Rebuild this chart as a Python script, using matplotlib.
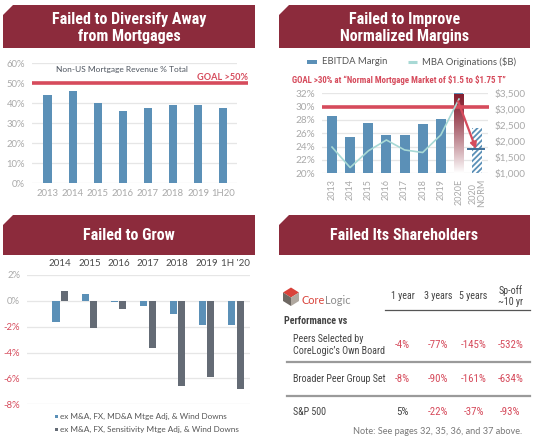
import numpy as np
import matplotlib
matplotlib.use('Agg')
import matplotlib.pyplot as plt
from matplotlib import font_manager
from matplotlib.patches import Polygon, Rectangle

# ---------------- data ----------------
p1_years = ['2013', '2014', '2015', '2016', '2017', '2018', '2019', '1H20']
p1_values = [44, 46, 40, 36.2, 37.7, 39, 39, 37.7]
p1_goal = 50
p1_ticks = [0, 10, 20, 30, 40, 50, 60]

p2_labels = ['2013', '2014', '2015', '2016', '2017', '2018', '2019', '2020E', '2020\nNORM']
p2_margin = [28.6, 25.5, 27.6, 25.7, 25.8, 27.4, 28.2]
p2_margin_2020e = 31.8
p2_margin_2020e_cap = 32.0
p2_margin_norm = 26.8
p2_norm_marker = 1750
p2_orig = [1820, 1180, 1700, 2040, 1730, 1650, 2200, 3320]
p2_goal = 29.9
p2_left_ticks = [20, 22, 24, 26, 28, 30, 32]
p2_right_ticks = [1000, 1500, 2000, 2500, 3000, 3500]

p3_years = ['2014', '2015', '2016', '2017', '2018', '2019', "1H '20"]
p3_blue = [-1.6, 0.5, -0.1, -0.4, -1.0, -1.85, -1.85]
p3_gray = [0.75, -2.1, -0.65, -3.65, -6.6, -5.9, -6.8]
p3_ticks = [2, 0, -2, -4, -6, -8]

p4_cols = ['1 year', '3 years', '5 years', 'Sp-off\n~10 yr']
p4_rows = ['Peers Selected by\nCoreLogic\u2019s Own Board', 'Broader Peer Group Set', 'S&P 500']
p4_vals = [[-4, -77, -145, -532], [-8, -90, -161, -634], [5, -22, -37, -93]]

# ---------------- style ----------------
def pick(cands):
    for c in cands:
        try:
            font_manager.findfont(font_manager.FontProperties(family=c), fallback_to_default=False)
            return c
        except Exception:
            pass
    return 'DejaVu Sans'

NARROW = pick(['Roboto Condensed', 'Liberation Sans Narrow', 'DejaVu Sans Condensed', 'Roboto'])
BODY = pick(['Lato', 'Open Sans', 'DejaVu Sans'])
plt.rcParams['font.family'] = [BODY, 'DejaVu Sans']
plt.rcParams['hatch.linewidth'] = 1.3

BANNER = '#8C2B3C'
BLUE = '#5B90B7'
GRAYBAR = '#646B75'
RED = '#D64B5C'
TICK = '#A9A9A9'
GRID = '#E6E6E6'
TEAL = '#A8D9D5'
DARK = '#4F5660'

W, H = 544, 443
fig = plt.figure(figsize=(W / 100, H / 100), dpi=100)


def px_rect(x0, y0, x1, y1):
    return [x0 / W, 1 - y1 / H, (x1 - x0) / W, (y1 - y0) / H]


def clean(ax):
    for s in ax.spines.values():
        s.set_visible(False)
    ax.tick_params(length=0)


# ---------------- panel 1 ----------------
ax1 = fig.add_axes(px_rect(32, 63.3, 237, 183.3))
x1 = np.arange(len(p1_years))
ax1.bar(x1, p1_values, width=0.33, color=BLUE, zorder=2)
ax1.set_ylim(0, 60)
ax1.set_xlim(-0.62, 7.55)
ax1.set_yticks(p1_ticks)
ax1.set_yticklabels([f'{t}%' for t in p1_ticks], color=TICK, fontsize=6.8)
ax1.set_xticks(x1)
ax1.set_xticklabels(p1_years, color=TICK, fontsize=6.8)
ax1.yaxis.grid(True, color=GRID, lw=0.9, zorder=0)
ax1.set_axisbelow(True)
clean(ax1)
ax1.tick_params(axis='y', pad=5)
ax1.tick_params(axis='x', pad=4)
ax1.plot([-0.62, 7.99], [p1_goal, p1_goal], color=RED, lw=2.6, clip_on=False,
         solid_capstyle='butt', zorder=3)

# ---------------- panel 2 ----------------
ax2 = fig.add_axes(px_rect(322, 93.3, 488, 173.3))
x2 = np.arange(len(p2_labels))
ax2.set_ylim(20, 32)
ax2.set_xlim(-0.55, 8.6)
bw = 0.55
ax2.bar(x2[:7], np.array(p2_margin) - 20, bottom=20, width=bw, color=BLUE, zorder=2)
ax2.bar(x2[7], p2_margin_2020e_cap - 20, bottom=20, width=bw * 0.9, color=BLUE, zorder=2)
# gradient bar
t = np.linspace(0, 1, 256)[:, None]
c_top = np.array([0x86, 0x1F, 0x30]) / 255
ramp = np.clip(t ** 1.3, 0, 1)
grad = (1 - ramp) * c_top + ramp * np.array([1, 1, 1])
grad = grad.reshape(256, 1, 3)
ax2.imshow(grad, extent=(x2[7] - bw / 2, x2[7] + bw / 2, 20, p2_margin_2020e),
           aspect='auto', zorder=3, interpolation='bilinear')
ax2.set_xlim(-0.55, 8.6)
ax2.set_ylim(20, 32)
ax2.bar(x2[8], p2_margin_norm - 20, bottom=20, width=bw, color='white',
        edgecolor=BLUE, hatch='//////', lw=0, zorder=2)
ax2.set_yticks(p2_left_ticks)
ax2.set_yticklabels([f'{t}%' for t in p2_left_ticks], color=TICK, fontsize=7.2)
ax2.set_xticks(x2)
ax2.set_xticklabels(p2_labels, color=TICK, fontsize=6.5, rotation=90, linespacing=0.9)
ax2.yaxis.grid(True, color=GRID, lw=0.9, zorder=0)
ax2.set_axisbelow(True)
clean(ax2)
ax2.tick_params(axis='y', pad=5)
ax2.tick_params(axis='x', pad=4)
ax2.plot([-0.55, 8.65], [p2_goal, p2_goal], color=RED, lw=2.6, clip_on=False,
         solid_capstyle='butt', zorder=4)

ax2r = ax2.twinx()
ax2r.set_ylim(1000, 3500)
ax2r.set_xlim(-0.55, 8.6)
ax2r.plot(x2[:8], p2_orig, color=TEAL, lw=1.2, zorder=3)
ax2r.plot([x2[8] - 0.5, x2[8] + 0.39], [p2_norm_marker, p2_norm_marker], color='#3F6F98', lw=1.4, zorder=4)
ax2r.annotate('', xy=(x2[8] - 0.06, p2_norm_marker + 10), xytext=(x2[7] - 0.05, 3250),
              arrowprops=dict(arrowstyle='-|>', color=RED, lw=1.6, mutation_scale=9,
                              shrinkA=0, shrinkB=0), zorder=5)
ax2r.set_yticks(p2_right_ticks)
ax2r.set_yticklabels([f'${v:,}' for v in p2_right_ticks], color=TICK, fontsize=7.2)
clean(ax2r)
ax2r.tick_params(axis='y', pad=5)

# ---------------- panel 3 ----------------
ax3 = fig.add_axes(px_rect(27, 275, 250, 404.3))
x3 = np.arange(len(p3_years))
ax3.bar(x3 - 0.14, p3_blue, width=0.24, color=BLUE, zorder=2)
ax3.bar(x3 + 0.14, p3_gray, width=0.24, color=GRAYBAR, zorder=2)
ax3.set_ylim(-8, 2)
ax3.set_xlim(-1.13, 6.48)
ax3.set_yticks(p3_ticks)
ax3.set_yticklabels([f'{t}%' for t in p3_ticks], fontsize=6.8)
for lab, tv in zip(ax3.get_yticklabels(), p3_ticks):
    lab.set_color(TICK if tv >= 0 else RED)
ax3.xaxis.tick_top()
ax3.set_xticks(x3)
ax3.set_xticklabels(p3_years, color='#4A4A4A', fontsize=7)
ax3.yaxis.grid(True, color=GRID, lw=0.9, zorder=0)
ax3.set_axisbelow(True)
clean(ax3)
ax3.tick_params(axis='y', pad=5)
ax3.tick_params(axis='x', pad=5)

# ---------------- overlay (banners, texts, table) ----------------
ov = fig.add_axes([0, 0, 1, 1])
ov.set_xlim(0, W)
ov.set_ylim(H, 0)
ov.axis('off')


def banner(x0, y0, x1, y1, lines):
    ov.add_patch(Polygon([(x0, y0 + 10), (x0 + 10, y0), (x1, y0), (x1, y1), (x0, y1)],
                         closed=True, color=BANNER, lw=0))
    cx = (x0 + x1) / 2
    if len(lines) == 1:
        ys = [(y0 + y1) / 2 + 0.5]
    else:
        ys = [(y0 + y1) / 2 - 7.5, (y0 + y1) / 2 + 9.5]
    for s, y in zip(lines, ys):
        ov.text(cx, y, s, color='white', fontsize=11.5, fontweight='bold', family=[NARROW, 'DejaVu Sans'],
                ha='center', va='center')


banner(3, 5, 255, 48, ['Failed to Diversify Away', 'from Mortgages'])
banner(279, 5, 530, 48, ['Failed to Improve', 'Normalized Margins'])
banner(3, 215, 255, 255, ['Failed to Grow'])
banner(279, 215, 530, 255, ['Failed Its Shareholders'])

# panel 1 annotations
ov.text(122, 69, 'Non-US Mortgage Revenue % Total', fontsize=6, color=DARK, ha='center', va='center')
ov.text(248, 77.5, 'GOAL >50%', fontsize=6.6, color=RED, fontweight='bold', ha='right', va='center')

# panel 2 legend and goal text
ov.add_patch(Rectangle((307, 60), 10, 3.5, color=BLUE, lw=0))
ov.text(321.5, 61.8, 'EBITDA Margin', fontsize=6.8, color='#555555', va='center', ha='left')
ov.plot([408, 417], [61.8, 61.8], color=TEAL, lw=2.2, solid_capstyle='butt')
ov.text(421.5, 61.8, 'MBA Originations (\\$B)', fontsize=6.8, color='#555555', va='center', ha='left')
ov.text(291.5, 80, 'GOAL >30% at \u201cNormal Mortgage Market of \\$1.5 to \\$1.75 T\u201d', fontsize=6.4,
        color=RED, fontweight='bold', family=[NARROW, 'DejaVu Sans'], va='center', ha='left')

# panel 3 legend
ov.add_patch(Rectangle((54.5, 414.5), 3.6, 3.6, color=BLUE, lw=0))
ov.text(59.5, 416.5, 'ex M&A, FX, MD&A Mtge Adj, & Wind Downs', fontsize=5.9, color='#555555',
        va='center', ha='left')
ov.add_patch(Rectangle((54.5, 427.5), 3.6, 3.6, color=GRAYBAR, lw=0))
ov.text(59.5, 429.5, 'ex M&A, FX, Sensitivity Mtge Adj, & Wind Downs', fontsize=5.9, color='#555555',
        va='center', ha='left')

# panel 4: logo
ov.add_patch(Polygon([(283, 292.5), (291, 287.5), (299, 292.5), (291, 297.5)], closed=True,
                     color='#D9423A', lw=0))
ov.add_patch(Polygon([(283, 292.5), (291, 297.5), (291, 306), (283, 301)], closed=True,
                     color='#6E6862', lw=0))
ov.add_patch(Polygon([(291, 297.5), (299, 292.5), (299, 301), (291, 306)], closed=True,
                     color='#B0A89F', lw=0))
t_core = ov.text(302, 300.7, 'Core', fontsize=7.8, color='#D9423A', va='center', ha='left')
ov.annotate('Logic', xy=(1, 0), xycoords=t_core, va='bottom', ha='left', fontsize=7.8, color='#8C8C8C')

TF = [NARROW, 'DejaVu Sans']
col_x = [402.7, 437.7, 473.5, 510.3]
for cx, c in zip(col_x, p4_cols):
    ov.text(cx, 296, c, fontsize=7.2, color='#444444', ha='center', va='center', family=TF, linespacing=1.2)
ov.plot([385, 530], [310, 310], color='#555555', lw=0.9)
ov.text(284, 321, 'Performance vs', fontsize=7.2, color='#444444', fontweight='bold', va='center',
        ha='left', family=TF)
row_y = [345, 379, 412]
for ry, rl, vals in zip(row_y, p4_rows, p4_vals):
    ov.text(292.7, ry, rl, fontsize=7.2, color='#444444', va='center', ha='left', family=TF, linespacing=1.25)
    for cx, v in zip(col_x, vals):
        ov.text(cx, ry, f'{v}%', fontsize=7.8, color=RED if v < 0 else '#444444', ha='center',
                va='center', family=TF)
for sy in [362, 396]:
    ov.plot([287, 530], [sy, sy], color='#9A9A9A', lw=1.6)
ov.text(522, 432, 'Note: See pages 32, 35, 36, and 37 above.', fontsize=6.6, color='#777777',
        ha='right', va='center')

fig.savefig('out.png', dpi=100)
